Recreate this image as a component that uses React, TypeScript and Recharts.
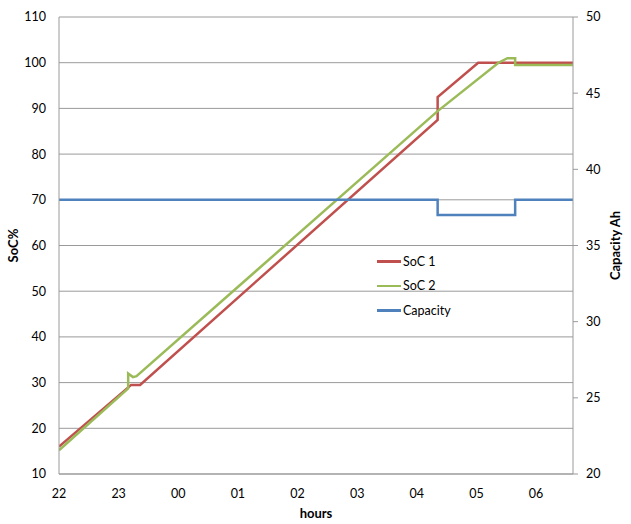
import React from 'react';
import { LineChart, Line, XAxis, YAxis, CartesianGrid, Legend, Label } from 'recharts';

// hours after 22:00
const hourTicks = [0, 1, 2, 3, 4, 5, 6, 7, 8];
const hourLabels = ['22', '23', '00', '01', '02', '03', '04', '05', '06'];

const socTicks = [10, 20, 30, 40, 50, 60, 70, 80, 90, 100, 110];
const capTicks = [20, 25, 30, 35, 40, 45, 50];

const soc1Hours = [0, 1.21, 1.36, 6.35, 6.35, 7.03, 8.62];
const soc1Values = [16, 29.5, 29.5, 87.5, 92.5, 100, 100];

const soc2Hours = [0, 1.16, 1.16, 1.24, 1.3, 6.34, 7.37, 7.52, 7.65, 7.65, 8.62];
const soc2Values = [15.2, 28.7, 32, 31.2, 31.4, 89.3, 100, 101, 101, 99.5, 99.5];

const capHours = [0, 6.35, 6.35, 7.65, 7.65, 8.62];
const capValues = [38, 38, 37, 37, 38, 38];

const toPoints = (hours: number[], values: number[]) =>
  hours.map((h, i) => ({ h, v: values[i] }));

const soc1Data = toPoints(soc1Hours, soc1Values);
const soc2Data = toPoints(soc2Hours, soc2Values);
const capData = toPoints(capHours, capValues);

const FONT = "Lato, 'Open Sans', sans-serif";
const AXIS_GREY = '#9a9a9a';
const TEXT = '#000';

const legendItems = [
  { name: 'SoC 1', color: '#C0504D' },
  { name: 'SoC 2', color: '#9BBB59' },
  { name: 'Capacity', color: '#4F81BD' },
];

const LegendBox = () => (
  <div style={{ fontFamily: FONT, fontSize: 12.5, color: TEXT }}>
    {legendItems.map((it) => (
      <div key={it.name} style={{ display: 'flex', alignItems: 'center', height: 24.5 }}>
        <span style={{ display: 'inline-block', width: 24, height: 2.5, background: it.color, marginRight: 2 }} />
        <span>{it.name}</span>
      </div>
    ))}
  </div>
);

const App: React.FC = () => {
  return (
    <div style={{ position: 'absolute', left: 0, top: 0, width: 631, height: 524, background: '#fff' }}>
      <LineChart width={631} height={524} margin={{ top: 17, right: 0, bottom: 20, left: 0 }}>
        <CartesianGrid yAxisId="left" vertical={false} stroke={AXIS_GREY} strokeWidth={1} />
        <XAxis
          dataKey="h"
          type="number"
          domain={[0, 8.62]}
          ticks={hourTicks}
          tickFormatter={(v: number) => hourLabels[v] ?? ''}
          allowDataOverflow
          height={30}
          stroke={AXIS_GREY}
          tickLine={false}
          tickSize={6}
          tickMargin={9}
          tick={{ fontSize: 12.5, fill: TEXT, fontFamily: FONT }}
        >
          <Label
            content={(p: any) => (
              <text
                x={p.viewBox.x + p.viewBox.width / 2}
                y={518}
                textAnchor="middle"
                fontFamily={FONT}
                fontSize={13}
                fontWeight="bold"
                fill={TEXT}
              >
                hours
              </text>
            )}
          />
        </XAxis>
        <YAxis
          yAxisId="left"
          domain={[10, 110]}
          ticks={socTicks}
          width={59}
          stroke={AXIS_GREY}
          tickLine={false}
          tickSize={6}
          tickMargin={7}
          tick={{ fontSize: 12.5, fill: TEXT, fontFamily: FONT }}
        >
          <Label
            content={(p: any) => {
              const x = p.viewBox.x + 13;
              const y = p.viewBox.y + p.viewBox.height / 2;
              return (
                <text
                  x={x}
                  y={y}
                  transform={`rotate(-90 ${x} ${y})`}
                  textAnchor="middle"
                  dominantBaseline="central"
                  fontFamily={FONT}
                  fontSize={13}
                  fontWeight="bold"
                  fill={TEXT}
                >
                  SoC%
                </text>
              );
            }}
          />
        </YAxis>
        <YAxis
          yAxisId="right"
          orientation="right"
          domain={[20, 50]}
          ticks={capTicks}
          width={58}
          stroke={AXIS_GREY}
          tickSize={5}
          tickMargin={8}
          tick={{ fontSize: 12.5, fill: TEXT, fontFamily: FONT }}
        >
          <Label
            content={(p: any) => {
              const x = p.viewBox.x + 42;
              const y = p.viewBox.y + p.viewBox.height / 2;
              return (
                <text
                  x={x}
                  y={y}
                  transform={`rotate(-90 ${x} ${y})`}
                  textAnchor="middle"
                  dominantBaseline="central"
                  fontFamily={FONT}
                  fontSize={13}
                  fontWeight="bold"
                  fill={TEXT}
                >
                  Capacity Ah
                </text>
              );
            }}
          />
        </YAxis>
        <Legend
          layout="horizontal"
          verticalAlign="middle"
          align="center"
          content={() => <LegendBox />}
          wrapperStyle={{ position: 'absolute', left: 377, top: 249, width: 'auto', height: 'auto' }}
        />
        <Line
          yAxisId="left"
          data={soc1Data}
          dataKey="v"
          name="SoC 1"
          type="linear"
          stroke="#C0504D"
          strokeWidth={2.5}
          dot={false}
          isAnimationActive={false}
        />
        <Line
          yAxisId="left"
          data={soc2Data}
          dataKey="v"
          name="SoC 2"
          type="linear"
          stroke="#9BBB59"
          strokeWidth={2.5}
          dot={false}
          isAnimationActive={false}
        />
        <Line
          yAxisId="right"
          data={capData}
          dataKey="v"
          name="Capacity"
          type="linear"
          stroke="#4F81BD"
          strokeWidth={2.5}
          dot={false}
          isAnimationActive={false}
        />
      </LineChart>
    </div>
  );
};

export default App;
